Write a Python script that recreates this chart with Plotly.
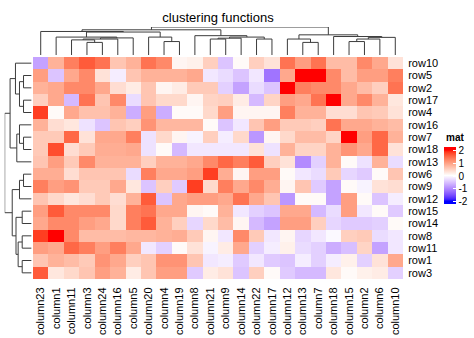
import numpy as np
import plotly.graph_objects as go

# ---------------- data ----------------
row_labels = ["row10", "row5", "row2", "row17", "row4", "row16", "row7", "row18", "row13",
              "row6", "row9", "row12", "row15", "row14", "row8", "row11", "row1", "row3"]
col_labels = ["column23", "column1", "column11", "column3", "column24", "column16", "column5",
              "column20", "column4", "column19", "column8", "column21", "column9", "column14",
              "column22", "column17", "column12", "column13", "column7", "column18", "column15",
              "column2", "column6", "column10"]

row10 = [-0.8, 0.8, 1.3, 1.6, 1.4, 0.6, 0.8, 1.4, 1.2, 0.1, 0.15, 0.5, -0.5, 0.05, 0.5, 0.3, 1.4, 1.0, 1.4, 0.7, 0.7, 1.2, 0.9, 0.3]
row5 = [1.0, -0.5, 0.9, 1.2, 0.3, -0.15, 0.6, 0.8, 0.8, 0.8, 0.9, -0.2, -0.3, -0.5, -0.2, -1.2, 0.9, 2.0, 2.0, 1.2, 0.7, 1.0, 1.0, 1.3]
row2 = [0.8, 0.9, 1.2, 1.2, 0.9, 0.35, 0.2, 0.6, 0.1, 0.2, 0.55, 0.55, -0.4, -0.8, -0.3, -0.5, 2.0, 1.3, 1.2, 1.2, 0.9, 0.7, 0.5, 1.4]
row17 = [0.5, 0.9, -0.6, 1.4, 0.6, 1.2, -0.3, 0.6, 0.4, 0.4, 0.1, 0.45, 0.5, 0.2, -0.6, 0.45, 1.0, 0.9, 1.4, 2.0, 0.9, 1.2, 0.8, 0.25]
row4 = [1.8, 0.05, 0.9, 0.65, 0.65, 0.8, -0.7, 1.0, -0.7, 0.05, 0.05, 0.4, 1.0, 0.1, 0.1, 0.1, 1.3, 0.8, 0.8, 0.35, 0.35, 0.6, 0.55, 0.3]
row16 = [0.8, 0.35, 0.25, -0.25, -0.5, 0.6, 0.5, 1.1, 0.75, 0.75, 0.75, 0.05, -0.5, -0.2, 0.6, 1.0, 0.55, 0.55, 0.5, 1.4, 0.9, 0.9, 0.8, 0.7]
row7 = [0.55, 0.55, 1.5, 0.3, 0.9, 0.9, 1.3, -0.25, 0.4, 0.1, -0.1, 0.5, -0.15, 0.4, -0.9, 0.1, 0.4, 0.7, 0.7, 0.45, 2.0, 1.0, 1.5, 0.8]
row18 = [0.55, 1.7, 0.35, 0.55, 0.85, 0.85, 0.9, -0.25, 0.05, -0.6, -0.2, -0.2, -0.2, -0.2, 0.3, -0.25, 0.8, 0.45, 0.45, 0.8, 1.1, 0.9, 1.5, 0.3]
row13 = [0.6, 1.0, 0.55, 1.2, 0.8, 0.8, 0.8, 0.5, 0.8, 0.8, 0.9, 1.2, 1.5, 1.3, 1.6, 0.5, 0.3, -1.0, -0.4, 0.8, 0.05, -0.25, 0.8, -0.3]
row6 = [0.85, 0.85, 0.35, 0.6, 0.6, 0.6, -0.3, 1.3, 0.9, 0.9, 1.0, 1.8, 0.85, 0.1, 1.0, 1.0, 0.05, -0.2, -0.3, 0.55, -0.35, -0.45, 0.05, 0.6]
row9 = [1.3, 1.0, 1.1, 0.55, 0.55, 0.9, 0.25, -0.5, 0.5, -0.45, 1.8, 0.4, 1.3, 0.9, 1.2, 0.85, 0.1, 0.6, -0.45, -0.8, 0.05, -0.1, 0.3, 0.35]
row12 = [0.6, 0.4, 0.25, 0.35, 0.55, 0.35, 0.8, 1.6, -0.5, 0.9, 1.0, 1.0, 0.9, 1.4, 0.9, 0.6, -0.9, 0.05, 0.05, -0.8, 1.0, 0.05, -0.5, -0.15]
row15 = [1.0, 1.6, 1.2, 1.2, 1.2, 0.4, 1.3, 1.4, 0.9, 0.9, 0.1, 0.05, 0.8, -0.2, -0.4, -0.5, 0.9, 0.9, -0.6, -0.3, 1.0, -0.2, 0.05, -0.45]
row14 = [0.9, 1.2, 1.2, 1.0, 0.9, 0.4, 1.3, 1.6, 0.8, 0.5, -0.35, 0.4, 0.7, 0.1, -0.6, -0.8, 1.0, 1.0, 0.5, -0.35, -0.45, -0.45, -0.4, 0.05]
row8 = [1.8, 2.0, 1.2, 0.7, 0.7, 0.7, 0.75, 0.75, 0.8, 0.85, 0.55, 0.1, -0.2, 1.2, 0.55, -0.2, 0.1, -0.35, -0.2, -0.05, 0.5, 0.55, -0.3, -0.2]
row11 = [1.0, 0.9, 1.5, 1.3, 1.0, 1.3, 0.9, -0.2, -0.4, 0.05, 0.3, -0.1, 0.2, 0.9, -0.4, -0.15, 0.15, -0.3, -0.4, -0.7, -0.55, 0.45, -0.8, -0.2]
row1 = [0.6, 0.8, 0.7, 0.55, 1.1, 0.9, 0.5, 0.6, 1.1, 1.1, 0.6, -0.2, -0.15, -0.45, -0.2, -0.45, -0.5, -0.15, -0.4, -0.15, 0.15, -0.4, 0.3, 0.9]
row3 = [1.6, 0.25, 0.4, 0.6, 1.0, 0.8, 0.2, 0.6, 1.0, 1.0, -0.45, 0.2, 0.3, -0.5, 0.5, 0.05, -0.45, -0.6, -0.6, 0.25, 0.05, 0.15, 0.2, -0.4]

mat = [row10, row5, row2, row17, row4, row16, row7, row18, row13,
       row6, row9, row12, row15, row14, row8, row11, row1, row3]

legend_breaks = [-2, -1, 0, 1, 2]

# dendrogram trees: (left, right, merge height); ints = leaf position in display order
col_tree = (
    (
        (0, ((1, (((2, (3, 4, 0.45), 0.54), 5, 0.57), 6, 0.61), 0.64),
             (7, (8, 9, 0.48), 0.64), 0.82), 0.84),
        (10, (((11, 12, 0.57), 13, 0.60), (14, 15, 0.57), 0.64), 0.69),
        0.90),
    (
        (16, (17, 18, 0.45), 0.57),
        (19, (((20, 21, 0.48), 22, 0.57), 23, 0.63), 0.66),
        0.72),
    1.0)

row_tree = (
    (
        (0, ((1, 2, 0.30), (3, 4, 0.30), 0.45), 0.60),
        ((5, (6, 7, 0.30), 0.45), 8, 0.55),
        0.80),
    (
        ((9, 10, 0.30), 11, 0.45),
        ((12, 13, 0.35), ((14, 15, 0.35), (16, 17, 0.35), 0.50), 0.58),
        0.72),
    1.0)

# ---------------- colour mapping (LAB interpolation blue-white-red) ----------------
def srgb_to_lab(rgb):
    c = np.array(rgb, float) / 255.0
    c = np.where(c > 0.04045, ((c + 0.055) / 1.055) ** 2.4, c / 12.92)
    M = np.array([[0.4124, 0.3576, 0.1805], [0.2126, 0.7152, 0.0722], [0.0193, 0.1192, 0.9505]])
    xyz = M @ c / np.array([0.95047, 1.0, 1.08883])
    f = np.where(xyz > 0.008856, np.cbrt(xyz), 7.787 * xyz + 16 / 116)
    return np.array([116 * f[1] - 16, 500 * (f[0] - f[1]), 200 * (f[1] - f[2])])


def lab_to_srgb(lab):
    L, a, b = lab
    fy = (L + 16) / 116
    fx = fy + a / 500
    fz = fy - b / 200
    f = np.array([fx, fy, fz])
    xyz = np.where(f ** 3 > 0.008856, f ** 3, (f - 16 / 116) / 7.787) * np.array([0.95047, 1.0, 1.08883])
    Minv = np.array([[3.2406, -1.5372, -0.4986], [-0.9689, 1.8758, 0.0415], [0.0557, -0.2040, 1.0570]])
    c = Minv @ xyz
    c = np.where(c > 0.0031308, 1.055 * np.abs(c) ** (1 / 2.4) - 0.055, 12.92 * c)
    c = np.clip(c, 0, 1) * 255
    return "rgb(%d,%d,%d)" % tuple(np.round(c).astype(int))


LAB_B, LAB_W, LAB_R = srgb_to_lab((0, 0, 255)), srgb_to_lab((255, 255, 255)), srgb_to_lab((255, 0, 0))


def color_at(v):
    v = max(-2.0, min(2.0, v))
    if v <= 0:
        lab = LAB_B + (LAB_W - LAB_B) * ((v + 2) / 2)
    else:
        lab = LAB_W + (LAB_R - LAB_W) * (v / 2)
    return lab_to_srgb(lab)


N = 48
heat_scale = [[i / N, color_at(-2 + 4 * i / N)] for i in range(N + 1)]

# legend bar extends a little beyond the breaks, as in ComplexHeatmap
EXT = 2.235
leg_scale = [[0.0, color_at(-2)]]
for i in range(N + 1):
    v = -2 + 4 * i / N
    leg_scale.append([(v + EXT) / (2 * EXT), color_at(v)])
leg_scale.append([1.0, color_at(2)])

# ---------------- dendrogram segments ----------------
def dendro_segments(tree):
    xs, ys = [], []

    def rec(node):
        if isinstance(node, int):
            return float(node), 0.0
        l, r, h = node
        xl, hl = rec(l)
        xr, hr = rec(r)
        xs.extend([xl, xl, xr, xr, None])
        ys.extend([hl, h, h, hr, None])
        return (xl + xr) / 2.0, h

    rec(tree)
    return xs, ys


W, H = 474, 338
hx0, hx1 = 33, 403      # heatmap body pixels
hy0, hy1 = 57, 279
LINE = "#3c3c3c"
FONT = "Liberation Sans, Arial, sans-serif"

fig = go.Figure()
fig.add_trace(go.Heatmap(
    z=mat, x=col_labels, y=row_labels, colorscale=heat_scale, zmin=-2, zmax=2,
    xaxis="x", yaxis="y", hoverinfo="skip", showscale=False,
))

cx, cy = dendro_segments(col_tree)
fig.add_trace(go.Scatter(x=cx, y=cy, mode="lines", line=dict(color=LINE, width=1),
                         xaxis="x2", yaxis="y2", hoverinfo="skip", showlegend=False))
rx, ry = dendro_segments(row_tree)
fig.add_trace(go.Scatter(x=ry, y=rx, mode="lines", line=dict(color=LINE, width=1),
                         xaxis="x3", yaxis="y3", hoverinfo="skip", showlegend=False))

# legend (colour bar) carried by an off-screen marker trace
fig.add_trace(go.Scatter(
    x=[0, 0], y=[-5, -5], mode="markers", xaxis="x2", yaxis="y2", hoverinfo="skip",
    showlegend=False,
    marker=dict(color=[-EXT, EXT], cmin=-EXT, cmax=EXT, colorscale=leg_scale, showscale=True,
                colorbar=dict(
                    x=444 / W, xanchor="left", y=1 - 176 / H, yanchor="middle",
                    len=57, lenmode="pixels", thickness=12, outlinewidth=0, ypad=0, xpad=0,
                    tickvals=legend_breaks, ticktext=[str(b) for b in legend_breaks],
                    ticks="inside", ticklen=3, tickcolor="white",
                    tickfont=dict(size=10, family=FONT),
                )),
))

dom_x = [hx0 / W, hx1 / W]
dom_y = [1 - hy1 / H, 1 - hy0 / H]
fig.update_layout(
    width=W, height=H, margin=dict(l=0, r=0, t=0, b=0),
    paper_bgcolor="white", plot_bgcolor="white",
    font=dict(family=FONT, color="black"),
    title=dict(text="clustering functions", x=218 / W, xanchor="center",
               y=1 - 17 / H, yanchor="middle", font=dict(size=13, family=FONT)),
    xaxis=dict(domain=dom_x, tickangle=-90, tickfont=dict(size=11), showgrid=False,
               tickmode="array", tickvals=col_labels, ticktext=col_labels,
               zeroline=False, ticks="outside", ticklen=3, tickcolor="rgba(0,0,0,0)",
               showline=False, anchor="y"),
    yaxis=dict(domain=dom_y, side="right", autorange="reversed", tickfont=dict(size=11),
               tickmode="array", tickvals=row_labels, ticktext=row_labels,
               showgrid=False, zeroline=False, ticks="outside", ticklen=2,
               tickcolor="rgba(0,0,0,0)", showline=False, anchor="x"),
    xaxis2=dict(domain=dom_x, range=[-0.5, len(col_labels) - 0.5], visible=False, anchor="y2"),
    yaxis2=dict(domain=[1 - 55 / H, 1 - 27 / H], range=[0, 1.0], visible=False, anchor="x2"),
    xaxis3=dict(domain=[4.7 / W, 31.6 / W], range=[1.0, 0], visible=False, anchor="y3"),
    yaxis3=dict(domain=dom_y, range=[len(row_labels) - 0.5, -0.5], visible=False, anchor="x3"),
    annotations=[dict(text="<b>mat</b>", x=444 / W, y=1 - 137 / H, xref="paper", yref="paper",
                      xanchor="left", yanchor="middle", showarrow=False,
                      font=dict(size=10, family=FONT))],
)

fig.write_html("out.html")
